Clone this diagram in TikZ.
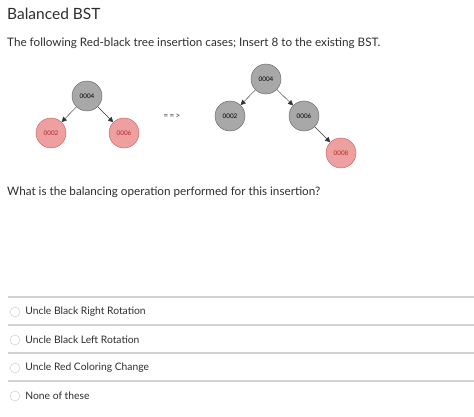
\documentclass[tikz,border=0pt]{standalone}
\usepackage{fontspec}
\setmainfont{Lato}
\usetikzlibrary{arrows.meta, positioning}
\definecolor{nodegray}{RGB}{168, 168, 168}
\definecolor{nodegrayline}{RGB}{95, 95, 95}
\definecolor{nodered}{RGB}{238, 160, 160}
\definecolor{noderedline}{RGB}{200, 90, 90}
\definecolor{noderedtext}{RGB}{170, 40, 40}
\definecolor{rulegray}{RGB}{210, 210, 210}
\definecolor{textgray}{RGB}{45, 45, 45}

\begin{document}
\begin{tikzpicture}[x=1pt, y=-1pt,
        blacknode/.style={circle, draw=nodegrayline, fill=nodegray, minimum size=30pt, inner sep=0pt, font=\fontsize{6.3}{7}\selectfont},
        rednode/.style={circle, draw=noderedline, fill=nodered, text=noderedtext, minimum size=30pt, inner sep=0pt, font=\fontsize{6.3}{7}\selectfont},
        edge/.style={-{Triangle[length=5pt, width=5pt]}, draw=black!80},
        txt/.style={anchor=base west, inner sep=0pt, text=textgray},
      ]
        \useasboundingbox (0,0) rectangle (474,417);

        \node[txt, font=\fontsize{15.5}{18}\selectfont] (title) at (7, 20) {Balanced BST};
        \node[txt, font=\fontsize{11.7}{14}\selectfont] (intro) at (7, 47) {The following Red-black tree insertion cases; Insert 8 to the existing BST.};

        % tree before insertion
        \node[blacknode] (l4) at (87, 96) {0004};
        \node[rednode] (l2) at (51, 133) {0002};
        \node[rednode] (l6) at (124, 133) {0006};
        \draw[edge] (l4) -- (l2);
        \draw[edge] (l4) -- (l6);

        \node[font=\fontsize{8}{9}\selectfont, text=textgray] (impl) at (172, 116) {=\,=\,>};

        % tree after insertion
        \node[blacknode] (r4) at (266, 79) {0004};
        \node[blacknode] (r2) at (230, 116) {0002};
        \node[blacknode] (r6) at (304, 116) {0006};
        \node[rednode] (r8) at (341, 153) {0008};
        \draw[edge] (r4) -- (r2);
        \draw[edge] (r4) -- (r6);
        \draw[edge] (r6) -- (r8);

        \node[txt, font=\fontsize{11.7}{14}\selectfont] (question) at (7, 195) {What is the balancing operation performed for this insertion?};

        % answer options
        \foreach \y in {296, 324, 352, 380}
          \fill[rulegray] (8, \y) rectangle (474, \y+2);
        \foreach \i/\answer in {0/Uncle Black Right Rotation, 1/Uncle Black Left Rotation, 2/Uncle Red Coloring Change, 3/None of these} {
          \node[circle, draw=black!22, fill=white, minimum size=10pt, inner sep=0pt] (radio\i) at (15, 312+\i*28) {};
          \node[txt, font=\fontsize{10.3}{12}\selectfont, right=5pt of radio\i, anchor=west] (option\i) {\answer};
        }
      \end{tikzpicture}
\end{document}
